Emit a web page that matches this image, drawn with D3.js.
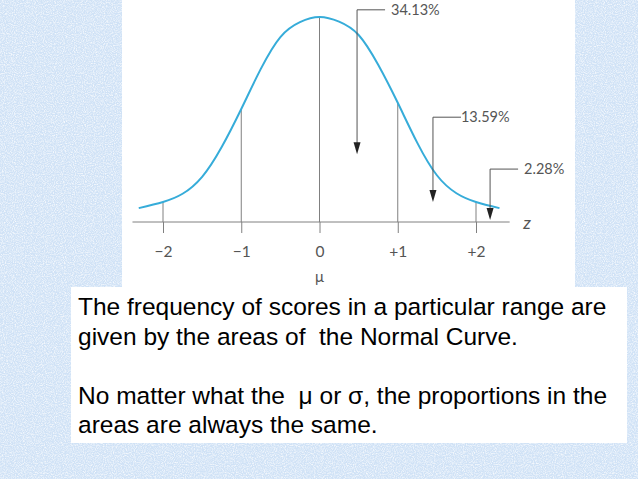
<!DOCTYPE html>
<html>
<head>
<meta charset="utf-8">
<script src="https://cdn.jsdelivr.net/npm/d3@7"></script>
<style>
  body { margin: 0; padding: 0; }
  svg { display: block; }
</style>
</head>
<body>
<div id="chart"></div>
<script>
// curve: z value and height (density units)
var curveZ = [-2.31, -2, -1.75, -1.5, -1.25, -1, -0.75, -0.5, -0.25, 0, 0.25, 0.5, 0.75, 1, 1.25, 1.5, 1.75, 2, 2.3];
var curveD = [0.027, 0.039, 0.055, 0.088, 0.146, 0.220, 0.298, 0.360, 0.389, 0.399, 0.390, 0.364, 0.306, 0.232, 0.154, 0.091, 0.056, 0.039, 0.027];

var tickValues = [-2, -1, 0, 1, 2];
var tickLabels = ['\u22122', '\u22121', '0', '+1', '+2'];

// arrows: label, z of the shaft, top and tip heights (density units)
var arrowLabels = ['34.13%', '13.59%', '2.28%'];
var arrowZ = [0.48, 1.45, 2.18];
var arrowTop = [0.413, 0.204, 0.103];
var arrowTip = [0.132, 0.039, 0.004];

var textLines = [
    'The frequency of scores in a particular range are',
    'given by the areas of  the Normal Curve.',
    '',
    'No matter what the  \u03bc or \u03c3, the proportions in the',
    'areas are always the same.'
];

var width = 638, height = 479;

var svg = d3.select('#chart').append('svg')
    .attr('width', width)
    .attr('height', height);

// textured light blue slide background
var defs = svg.append('defs');
var f = defs.append('filter').attr('id', 'speckle').attr('x', 0).attr('y', 0).attr('width', '100%').attr('height', '100%');
f.append('feTurbulence').attr('type', 'fractalNoise').attr('baseFrequency', 0.9).attr('numOctaves', 2).attr('seed', 3);
f.append('feColorMatrix').attr('type', 'matrix')
    .attr('values', '0 0 0 0 1  0 0 0 0 1  0 0 0 0 1  0 0 0 -2.2 1.35');
svg.append('rect').attr('width', width).attr('height', height).attr('fill', '#d0e2f6');
svg.append('rect').attr('width', width).attr('height', height).attr('filter', 'url(#speckle)').attr('opacity', 0.8);

// white panels
svg.append('rect').attr('x', 122).attr('y', 0).attr('width', 453).attr('height', 288).attr('fill', '#fff');
svg.append('rect').attr('x', 71).attr('y', 287).attr('width', 556).attr('height', 156).attr('fill', '#fff');

var xScale = d3.scaleLinear().domain([-2, 2]).range([163, 476]);
var yScale = d3.scaleLinear().domain([0, 0.4]).range([222, 16.5]);

var g = svg.append('g');

// vertical lines from the curve down through the axis
g.selectAll('.vline')
    .data(tickValues)
    .enter()
    .append('line')
    .attr('class', 'vline')
    .attr('x1', function (d) { return xScale(d); })
    .attr('x2', function (d) { return xScale(d); })
    .attr('y1', function (d) { return yScale(curveD[curveZ.indexOf(d)]); })
    .attr('y2', yScale(0))
    .attr('stroke', '#808080')
    .attr('stroke-width', 1);

// axis with tick marks below the line
var xAxis = d3.axisBottom(xScale)
    .tickValues(tickValues)
    .tickSize(11)
    .tickPadding(13)
    .tickFormat(function (d, i) { return tickLabels[i]; });

var xAxisG = g.append('g')
    .attr('transform', 'translate(0,' + yScale(0) + ')')
    .call(xAxis);
xAxisG.select('.domain').remove();
xAxisG.selectAll('.tick line').attr('stroke', '#808080');
xAxisG.selectAll('.tick text')
    .attr('fill', '#555')
    .attr('font-family', 'Lato, sans-serif')
    .attr('font-size', 15.5);

g.append('line')
    .attr('x1', xScale(-2.39)).attr('x2', xScale(2.43))
    .attr('y1', yScale(0)).attr('y2', yScale(0))
    .attr('stroke', '#808080')
    .attr('stroke-width', 1);

g.append('text')
    .attr('x', 527)
    .attr('y', yScale(0) + 7)
    .attr('text-anchor', 'middle')
    .attr('font-family', 'Lato, sans-serif')
    .attr('font-style', 'italic')
    .attr('font-size', 18)
    .attr('fill', '#555')
    .text('z');

g.append('text')
    .attr('x', xScale(0))
    .attr('y', 282)
    .attr('text-anchor', 'middle')
    .attr('font-family', 'Lato, sans-serif')
    .attr('font-size', 15)
    .attr('fill', '#555')
    .text('\u03bc');

// the normal curve
var line = d3.line()
    .x(function (d, i) { return xScale(curveZ[i]); })
    .y(function (d) { return yScale(d); })
    .curve(d3.curveNatural);

g.append('path')
    .datum(curveD)
    .attr('d', line)
    .attr('fill', 'none')
    .attr('stroke', '#36acd9')
    .attr('stroke-width', 2);

// arrows with labels
var arrows = g.selectAll('.arrow')
    .data(arrowLabels)
    .enter()
    .append('g')
    .attr('class', 'arrow');

arrows.append('path')
    .attr('d', function (d, i) {
        var x = xScale(arrowZ[i]);
        return 'M' + (x + 28) + ',' + yScale(arrowTop[i]) +
            'H' + x + 'V' + (yScale(arrowTip[i]) - 8);
    })
    .attr('fill', 'none')
    .attr('stroke', '#555')
    .attr('stroke-width', 1);

arrows.append('path')
    .attr('d', function (d, i) {
        var x = xScale(arrowZ[i]), y = yScale(arrowTip[i]);
        return 'M' + (x - 3.5) + ',' + (y - 12) + 'L' + (x + 3.5) + ',' + (y - 12) + 'L' + x + ',' + y + 'Z';
    })
    .attr('fill', '#222');

arrows.append('text')
    .attr('x', function (d, i) { return xScale(arrowZ[i]) + (i == 1 ? 28 : 34); })
    .attr('y', function (d, i) { return yScale(arrowTop[i]) + 5; })
    .attr('font-family', 'Lato, sans-serif')
    .attr('font-size', 14.5)
    .attr('fill', '#555')
    .text(function (d) { return d; });

// caption text
svg.selectAll('.caption')
    .data(textLines)
    .enter()
    .append('text')
    .attr('class', 'caption')
    .attr('x', 78)
    .attr('y', function (d, i) { return 315 + i * 29.5; })
    .attr('font-family', 'Liberation Sans, Arial, sans-serif')
    .attr('font-size', 24.5)
    .attr('fill', '#000')
    .style('white-space', 'pre')
    .text(function (d) { return d; });
</script>
</body>
</html>
